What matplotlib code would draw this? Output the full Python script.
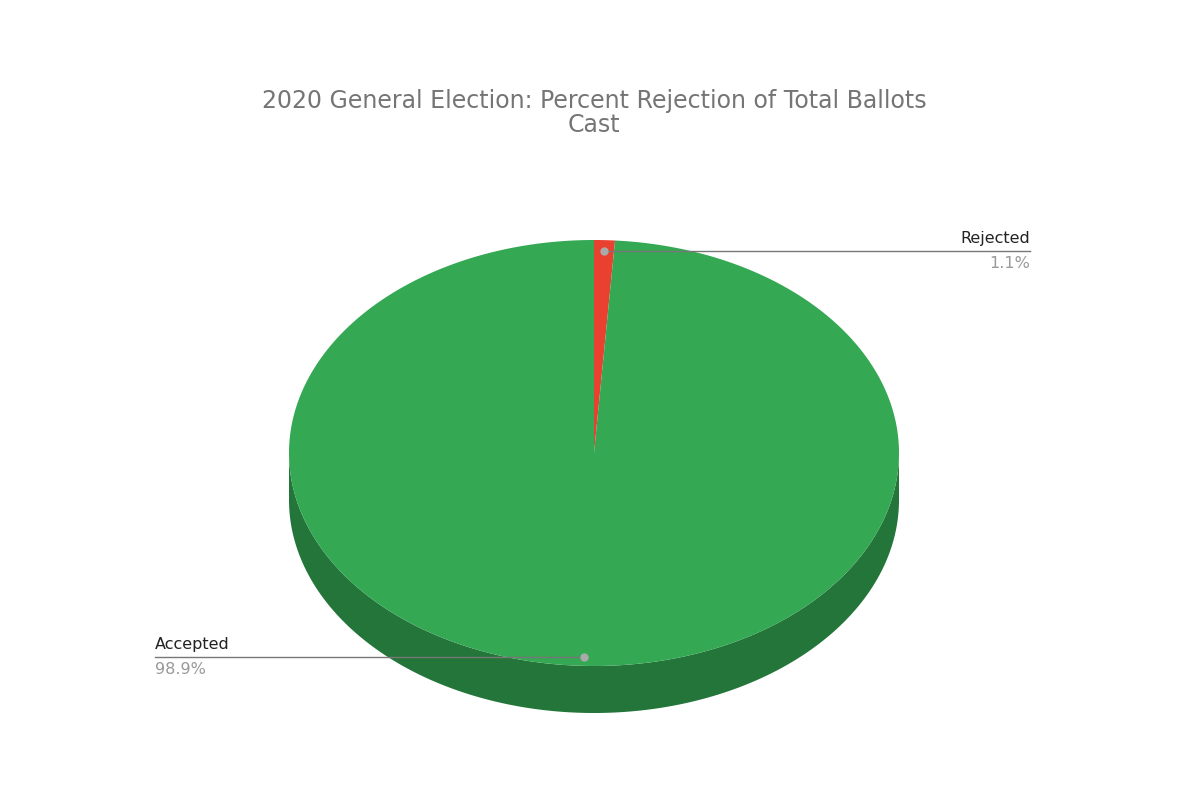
import numpy as np
import matplotlib
matplotlib.use("Agg")
import matplotlib.pyplot as plt
from matplotlib.patches import Polygon

labels = ["Rejected", "Accepted"]
values = [1.1, 98.9]
colors = ["#e8412f", "#34a853"]
side_color = "#23753a"

W, H = 1200, 800
fig = plt.figure(figsize=(12, 8), dpi=100)
ax = fig.add_axes([0, 0, 1, 1])
ax.set_xlim(0, W); ax.set_ylim(H, 0); ax.axis("off")

cx, cy, rx, ry, depth = 594, 453, 305, 213, 47

def pt(t, dy=0):
    return cx + rx*np.cos(t), cy - ry*np.sin(t) + dy

# side band (lower half)
t = np.linspace(np.pi, 2*np.pi, 200)
top = np.column_stack(pt(t))
bot = np.column_stack(pt(t[::-1], depth))
ax.add_patch(Polygon(np.vstack([top, bot]), closed=True, fc=side_color, ec="none"))

total = sum(values)
start = np.pi/2
mids = []
for v, c in zip(values, colors):
    span = 2*np.pi*v/total
    tt = np.linspace(start, start - span, 400)
    pts = np.vstack([[cx, cy], np.column_stack(pt(tt))])
    ax.add_patch(Polygon(pts, closed=True, fc=c, ec="none"))
    mids.append(start - span/2)
    start -= span

# labels
# Rejected
ax.plot([604, 1030], [251, 251], color="#777777", lw=1)
ax.plot(604, 251, "o", ms=5, color="#aaaaaa")
ax.text(1030, 246, "Rejected", ha="right", va="bottom", fontsize=11.5, color="#222222")
ax.text(1030, 256, f"{values[0]}%", ha="right", va="top", fontsize=11.5, color="#999999")
# Accepted
ax.plot([155, 584], [657, 657], color="#777777", lw=1)
ax.plot(584, 657, "o", ms=5, color="#aaaaaa")
ax.text(155, 652, "Accepted", ha="left", va="bottom", fontsize=11.5, color="#222222")
ax.text(155, 662, f"{values[1]}%", ha="left", va="top", fontsize=11.5, color="#999999")

ax.text(594, 113, "2020 General Election: Percent Rejection of Total Ballots\nCast",
        ha="center", va="center", fontsize=17, color="#757575", linespacing=0.95)

fig.savefig("out.png", dpi=100, facecolor="white")
